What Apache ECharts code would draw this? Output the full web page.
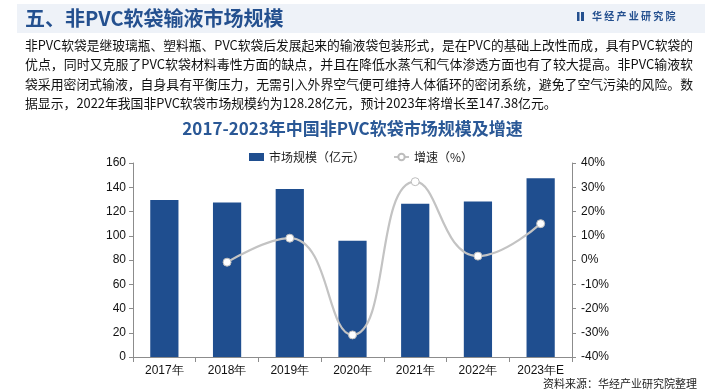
<!DOCTYPE html>
<html><head><meta charset="utf-8">
<script src="https://cdn.jsdelivr.net/npm/echarts@6/dist/echarts.min.js"></script>
<style>html,body{margin:0;padding:0;background:#fff;}#c{width:705px;height:392px;}</style>
</head><body><div id="c"></div>
<script>
const categories = ['2017年','2018年','2019年','2020年','2021年','2022年','2023年E'];
const marketSize = [129.4, 127.4, 138.6, 95.8, 126.3, 128.28, 147.38];
const growthRate = [null, -0.9, 9.0, -30.9, 32.3, 1.6, 15.0];
const leftTicks = { min: 0, max: 160, interval: 20 };
const rightTicks = { min: -40, max: 40, interval: 10 };
const paragraph = [
  '非PVC软袋是继玻璃瓶、塑料瓶、PVC软袋后发展起来的输液袋包装形式，是在PVC的基础上改性而成，具有PVC软袋的',
  '优点，同时又克服了PVC软袋材料毒性方面的缺点，并且在降低水蒸气和气体渗透方面也有了较大提高。非PVC输液软',
  '袋采用密闭式输液，自身具有平衡压力，无需引入外界空气便可维持人体循环的密闭系统，避免了空气污染的风险。数',
  '据显示，2022年我国非PVC软袋市场规模约为128.28亿元，预计2023年将增长至147.38亿元。'
];

const pFont = '13px "Noto Sans CJK SC"';
const ctx = document.createElement('canvas').getContext('2d');
ctx.font = pFont;
const targetW = 668;
const scales = paragraph.slice(0,3).map(t => targetW / ctx.measureText(t).width);
const avgScale = scales.reduce((a,b)=>a+b,0)/scales.length;
const lineYs = [45, 64.5, 84, 103];
const paraEls = paragraph.map((t,i) => ({
  type: 'text', x: 25, y: lineYs[i], scaleX: i < 3 ? scales[i] : avgScale, originX: 0, originY: 0,
  style: { text: t, font: pFont, fill: '#111', textVerticalAlign: 'middle' }, silent: true
}));

const chart = echarts.init(document.getElementById('c'), null, { renderer: 'canvas' });
const axisColor = '#8c8c8c';
chart.setOption({
  animation: false,
  textStyle: { fontFamily: '"Liberation Sans", Arial, sans-serif' },
  title: {
    text: '2017-2023年中国非PVC软袋市场规模及增速', left: 'center', top: 115,
    textStyle: { fontFamily: '"Noto Sans CJK SC"', fontSize: 17, fontWeight: 'bold', color: '#2a5896' }
  },
  legend: {
    left: 244, top: 146, itemWidth: 15, itemHeight: 8, itemGap: 28,
    textStyle: { fontFamily: '"Noto Sans CJK SC"', fontSize: 12, color: '#222' },
    data: [{ name: '市场规模（亿元）', icon: 'rect' }, { name: '增速（%）' }]
  },
  grid: { left: 133, right: 133, top: 163, bottom: 35 },
  xAxis: {
    type: 'category', data: categories, boundaryGap: true,
    axisLine: { lineStyle: { color: axisColor } },
    axisTick: { show: true, length: 5, interval: 0, lineStyle: { color: axisColor } },
    axisLabel: { fontSize: 12, color: '#111', margin: 8, interval: 0 }
  },
  yAxis: [
    { type: 'value', min: leftTicks.min, max: leftTicks.max, interval: leftTicks.interval,
      axisLine: { show: true, lineStyle: { color: axisColor } },
      axisTick: { show: true, length: 4, lineStyle: { color: axisColor } },
      splitLine: { show: false },
      axisLabel: { fontSize: 12, color: '#111', margin: 7 } },
    { type: 'value', min: rightTicks.min, max: rightTicks.max, interval: rightTicks.interval,
      axisLine: { show: true, lineStyle: { color: axisColor } },
      axisTick: { show: true, length: 4, lineStyle: { color: axisColor } },
      splitLine: { show: false },
      axisLabel: { fontSize: 12, color: '#111', margin: 9, formatter: '{value}%' } }
  ],
  series: [
    { name: '市场规模（亿元）', type: 'bar', data: marketSize, barWidth: '45%', yAxisIndex: 0,
      itemStyle: { color: '#1f4e8f' } },
    { name: '增速（%）', type: 'line', data: growthRate, yAxisIndex: 1, smooth: 0.5, connectNulls: false,
      symbol: 'circle', symbolSize: 8, showSymbol: true,
      lineStyle: { color: '#c3c3c3', width: 2.2 },
      itemStyle: { color: '#ffffff', borderColor: '#bdbdbd', borderWidth: 1 }, z: 5 }
  ],
  graphic: [
    { type: 'rect', shape: { x: 17, y: 4, width: 688, height: 29 }, style: { fill: '#eef2f8' }, silent: true },
    { type: 'text', x: 25, y: 18, style: { text: '五、非PVC软袋输液市场规模', font: 'bold 20px "Noto Sans CJK SC"', fill: '#24508f', textVerticalAlign: 'middle' }, silent: true },
    { type: 'rect', shape: { x: 577, y: 12, width: 2.5, height: 9 }, style: { fill: '#24508f' }, silent: true },
    { type: 'rect', shape: { x: 581, y: 12, width: 3, height: 9 }, style: { fill: '#24508f' }, silent: true },
    { type: 'text', x: 592, y: 16.5, style: { text: '华 经 产 业 研 究 院', font: 'bold 10px "Noto Sans CJK SC"', fill: '#24508f', textVerticalAlign: 'middle' }, silent: true },
    ...paraEls,
    { type: 'text', x: 697, y: 384, style: { text: '资料来源：华经产业研究院整理', font: '11px "Noto Sans CJK SC"', fill: '#222', textAlign: 'right', textVerticalAlign: 'middle' }, silent: true }
  ]
});
</script></body></html>
